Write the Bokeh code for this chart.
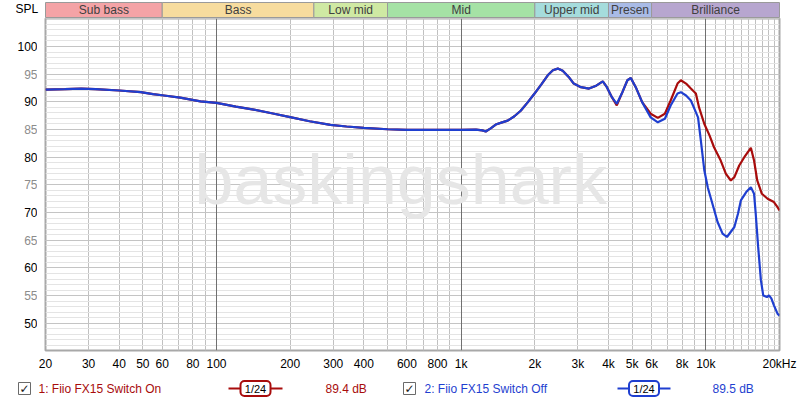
from bokeh.plotting import figure
from bokeh.layouts import column, row
from bokeh.models import Range1d, FixedTicker, Grid
from bokeh.core.properties import value
from bokeh.embed import file_html
from bokeh.resources import INLINE

# ---------------- data ----------------
freq_common = [20, 24, 28, 32, 40, 49, 55, 61, 71, 86, 100, 120, 142, 170, 200, 240, 292, 340, 400, 500,
               600, 800, 1000, 1150, 1220, 1260, 1320, 1384, 1470, 1549, 1650, 1751, 1870, 1995, 2130,
               2259, 2370, 2482, 2600, 2750, 2884, 3085, 3330, 3540, 3791, 3940, 4130]
spl_common = [92.2, 92.3, 92.4, 92.3, 92.05, 91.75, 91.4, 91.15, 90.75, 90.1, 89.8, 89.15, 88.6, 87.9, 87.25,
              86.5, 85.85, 85.55, 85.3, 85.05, 84.95, 84.95, 84.95, 85.0, 84.85, 84.65, 85.2, 85.9, 86.3, 86.6,
              87.4, 88.4, 89.9, 91.5, 93.2, 94.8, 95.7, 96.0, 95.6, 94.5, 93.3, 92.65, 92.4, 92.85, 93.7,
              92.65, 90.85]

freq_on_hi = [4325, 4560, 4780, 4935, 5170, 5490, 5950, 6364, 6800, 7180, 7660, 7904, 8300, 8685, 9104,
              9380, 9860, 10360, 10800, 11500, 12080, 12650, 13080, 13690, 14360, 15276, 15740, 16220,
              16940, 17880, 18980, 19630, 20000]
spl_on_hi = [89.35, 91.75, 93.9, 94.3, 92.65, 89.95, 87.85, 87.1, 87.85, 90.25, 93.3, 93.9, 93.3, 92.4, 91.5,
             89.0, 86.0, 83.9, 81.8, 79.4, 77.0, 75.8, 76.4, 78.5, 80.0, 81.7, 79.4, 75.8, 73.4, 72.5,
             71.9, 71.0, 70.4]

freq_off_hi = [4325, 4560, 4780, 4935, 5170, 5490, 5950, 6364, 6800, 7180, 7660, 7904, 8300, 8685, 8930,
               9290, 9541, 9860, 10190, 10782, 11166, 11703, 12200, 13080, 13530, 13904, 14620, 15276,
               15740, 15990, 16360, 16788, 17160, 17770, 18110, 18520, 18980, 19630, 20000]
spl_off_hi = [89.65, 91.75, 93.9, 94.3, 92.65, 89.95, 87.2, 86.3, 86.95, 89.35, 91.5, 91.75, 91.15, 90.25,
              89.0, 87.2, 83.0, 77.6, 74.5, 70.7, 68.3, 66.2, 65.6, 67.4, 69.8, 72.2, 73.7, 74.6, 73.4,
              69.8, 63.8, 57.8, 55.05, 54.75, 55.05, 54.5, 53.25, 51.75, 51.4]

band_names = ["Sub bass", "Bass", "Low mid", "Mid", "Upper mid", "Presen", "Brilliance"]
band_edges = [20, 60, 250, 500, 2000, 4000, 6000, 20000]
band_colors = ["#f4a3a6", "#f7dc9e", "#cfe9a3", "#a5e2a5", "#a5dcdc", "#a9bbe6", "#b7a6cf"]

x_ticks = [20, 30, 40, 50, 60, 80, 100, 200, 300, 400, 600, 800, 1000, 2000, 3000, 4000, 5000, 6000,
           8000, 10000, 20000]
x_tick_labels = ["20", "30", "40", "50", "60", "80", "100", "200", "300", "400", "600", "800", "1k", "2k",
                 "3k", "4k", "5k", "6k", "8k", "10k", "20kHz"]
y_tick_values = [50, 55, 60, 65, 70, 75, 80, 85, 90, 95, 100]
y_tick_colors = ["#000000" if v % 10 == 0 else "#8c8c8c" for v in y_tick_values]

legend_names = ["1: Fiio FX15 Switch On", "2: Fiio FX15 Switch Off"]
legend_values = ["89.4 dB", "89.5 dB"]
legend_colors = ["#a80c0c", "#1f3fd0"]
smoothing = "1/24"
watermark = "baskingshark"
y_label = "SPL"

FONT = value("Liberation Sans")
W = 800
LEFT = 45            # page x of the 20 Hz edge
PAD = 8              # left border of the main figure (room for the "20" label)
FW = 734             # frame width (20 Hz .. 20 kHz)
RIGHT = W - LEFT - FW
FH = 332
ppd = FW / 3.0       # pixels per decade


def bare(fig):
    fig.axis.visible = False
    fig.grid.visible = False
    fig.outline_line_color = None
    fig.background_fill_color = "white"
    fig.border_fill_color = "white"


# ---------------- band strip ----------------
band = figure(frame_width=W, frame_height=18, x_axis_type="log",
              x_range=Range1d(20 / 10 ** (LEFT / ppd), 20000 * 10 ** (RIGHT / ppd)), y_range=Range1d(0, 18),
              output_backend="svg", toolbar_location=None, min_border=0,
              min_border_left=0, min_border_right=0, min_border_top=0, min_border_bottom=0)
bare(band)
band.quad(left=band_edges[:-1], right=band_edges[1:], bottom=1, top=16, fill_color=band_colors,
          line_color="#9a9a9a", line_width=1)
centers = [(a * b) ** 0.5 for a, b in zip(band_edges[:-1], band_edges[1:])]
band.text(x=centers, y=[8.5] * len(centers), text=band_names, text_font=FONT, text_font_size="12px",
          text_color="#404040", text_align="center", text_baseline="middle")
band.text(x=[20 / 10 ** (30 / ppd)], y=[9.5], text=[y_label], text_font=FONT, text_font_size="12px",
          text_color="#000000", text_align="left", text_baseline="middle")

# ---------------- main chart ----------------
yr = Range1d(45.1, 105.05)
p = figure(frame_width=FW, frame_height=FH, x_axis_type="log", x_range=Range1d(20, 20000), y_range=yr,
           output_backend="svg", toolbar_location=None,
           min_border_left=PAD, min_border_right=RIGHT, min_border_top=0, min_border_bottom=24)
p.background_fill_color = "white"
p.border_fill_color = "white"
p.outline_line_color = "#a8a8a8"
p.outline_line_width = 2

grid_x = list(range(20, 100, 10)) + list(range(100, 1000, 100)) + list(range(1000, 20001, 1000))
p.xgrid.ticker = FixedTicker(ticks=grid_x)
p.xgrid.grid_line_color = "#c0c0c0"
p.add_layout(Grid(dimension=0, ticker=FixedTicker(ticks=[100, 1000, 10000]), grid_line_color="#707070"))
p.ygrid.ticker = FixedTicker(ticks=list(range(45, 106, 5)), minor_ticks=list(range(45, 106)))
p.ygrid.grid_line_color = "#c4c4c4"
p.ygrid.minor_grid_line_color = "#e4e4e4"

p.yaxis.visible = False
p.xaxis.ticker = FixedTicker(ticks=x_ticks)
p.xaxis.major_label_overrides = {t: l for t, l in zip(x_ticks, x_tick_labels)}
p.xaxis.axis_line_color = None
p.xaxis.major_tick_line_color = None
p.xaxis.minor_tick_line_color = None
p.xaxis.major_tick_out = 0
p.xaxis.major_tick_in = 0
p.xaxis.minor_tick_out = 0
p.xaxis.major_label_text_font = "Liberation Sans"
p.xaxis.major_label_text_font_size = "12px"
p.xaxis.major_label_text_color = "#000000"
p.xaxis.major_label_standoff = 6

p.text(x=[566], y=[75.8], text=[watermark], text_font=FONT, text_font_size="70px", text_color="#e6e6e6",
       text_align="center", text_baseline="middle")

p.line(freq_common + freq_on_hi, spl_common + spl_on_hi, line_color=legend_colors[0], line_width=2.2)
p.line(freq_common + freq_off_hi, spl_common + spl_off_hi, line_color=legend_colors[1], line_width=2.2)

# ---------------- y labels column ----------------
YLW = LEFT - PAD
yl = figure(frame_width=YLW, frame_height=FH, x_range=Range1d(0, YLW), y_range=yr, output_backend="svg",
            toolbar_location=None, min_border_left=0, min_border_right=0, min_border_top=0,
            min_border_bottom=24)
bare(yl)
yl.text(x=[YLW] * len(y_tick_values), y=y_tick_values, text=[str(v) for v in y_tick_values],
        text_color=y_tick_colors, text_font=FONT, text_font_size="12px", text_align="right",
        text_baseline="middle")

# ---------------- legend strip ----------------
LH = 28
lg = figure(frame_width=W, frame_height=LH, x_range=Range1d(0, W), y_range=Range1d(0, LH), output_backend="svg",
            toolbar_location=None, min_border=0, min_border_left=0, min_border_right=0,
            min_border_top=0, min_border_bottom=0)
bare(lg)
yc = LH - 14
box_x = [24, 409]
name_x = [38, 424]
seg = [(228, 282), (617, 670)]
val_x = [325, 712]
lg.rect(x=box_x, y=[yc] * 2, width=12, height=12, fill_color="white", line_color="#6a6a6a", line_width=1)
lg.text(x=box_x, y=[yc - 0.5] * 2, text=["\u2713"] * 2, text_font=value("DejaVu Sans"), text_font_size="12px",
        text_color="#202020", text_align="center", text_baseline="middle", text_font_style="bold")
lg.text(x=name_x, y=[yc] * 2, text=legend_names, text_color=legend_colors, text_font=FONT,
        text_font_size="12px", text_baseline="middle")
lg.segment(x0=[s[0] for s in seg], y0=[yc] * 2, x1=[s[1] for s in seg], y1=[yc] * 2,
           line_color=legend_colors, line_width=2)
mid = [(a + b) / 2 for a, b in seg]
lg.rect(x=mid, y=[yc] * 2, width=30, height=15, fill_color="white", line_color=legend_colors, line_width=2,
        border_radius=4)
lg.text(x=mid, y=[yc] * 2, text=[smoothing] * 2, text_color="#000000", text_font=FONT, text_font_size="11px",
        text_align="center", text_baseline="middle")
lg.text(x=val_x, y=[yc] * 2, text=legend_values, text_color=legend_colors, text_font=FONT,
        text_font_size="12px", text_baseline="middle")

layout = column(band, row(yl, p, spacing=0), lg, spacing=0)
open("out.html", "w").write(file_html(layout, INLINE))
